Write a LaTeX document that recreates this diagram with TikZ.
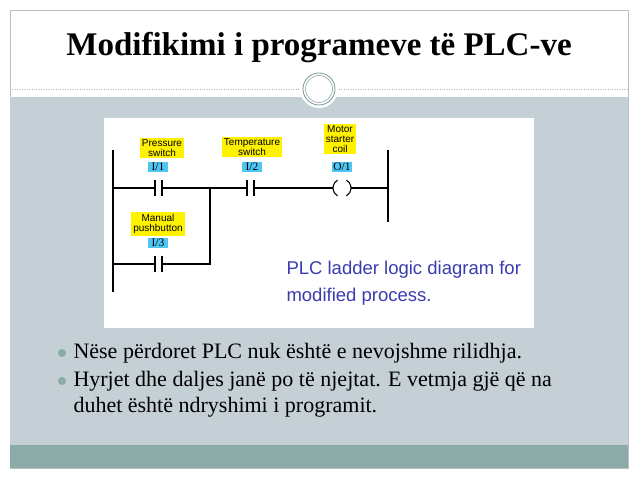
\documentclass[tikz,border=0pt]{standalone}
\usepackage{fontspec}
\setmainfont{Liberation Serif}
\setsansfont{Liberation Sans}
\usetikzlibrary{calc}
\definecolor{bodygray}{RGB}{197,208,214}
\definecolor{teal1}{RGB}{139,171,169}
\definecolor{ringc}{RGB}{120,150,150}
\definecolor{captc}{RGB}{60,60,175}
\begin{document}
\begin{tikzpicture}[x=1pt,y=-1pt,
  lbl/.style={fill=yellow,font=\sffamily\fontsize{10}{10}\selectfont,align=center,inner sep=2pt},
  adr/.style={fill=cyan!70,font=\fontsize{11.5}{11.5}\selectfont,inner sep=1.5pt,minimum width=20pt},
  wire/.style={line width=1.1pt},
  btxt/.style={anchor=west,font=\fontsize{22}{26}\selectfont,align=left}]
\useasboundingbox (0,0) rectangle (638,478);
\fill[white] (0,0) rectangle (638,478);
\draw[gray!50] (10,10) rectangle (628,468);
\fill[bodygray] (10,97) rectangle (628,445);
\fill[teal1] (10,445) rectangle (628,468);
\draw[gray!60,dotted] (10,89) -- (628,89);
\node[font=\bfseries\fontsize{33}{36}\selectfont] (title) at (319,48) {Modifikimi i programeve të PLC-ve};
\fill[white] (319,89) circle (19);
\draw[ringc,line width=0.8pt] (319,89) circle (16);
\draw[ringc,line width=0.5pt] (319,89) circle (13.5);
\fill[white] (104,118) rectangle (534,328);
% ladder
\coordinate (L1) at (113,150); \coordinate (L2) at (113,292);
\coordinate (R1) at (388,150); \coordinate (R2) at (388,222);
\draw[wire] (L1) -- (L2); \draw[wire] (R1) -- (R2);
\coordinate (a1) at (113,188); \coordinate (c1a) at (155,188); \coordinate (c1b) at (162,188);
\coordinate (j1) at (210,188); \coordinate (c2a) at (247,188); \coordinate (c2b) at (254,188);
\coordinate (co) at (342,188); \coordinate (a2) at (388,188);
\coordinate (b1) at (113,264); \coordinate (c3a) at (155,264); \coordinate (c3b) at (162,264); \coordinate (j2) at (210,264);
\draw[wire] (a1) -- (c1a) (c1b) -- (j1) -- (c2a) (c2b) -- ($(co)+(-9,0)$);
\draw[wire] ($(co)+(9,0)$) -- (a2);
\draw[wire] (b1) -- (c3a) (c3b) -- (j2) -- (j1);
\foreach \p in {c1a,c1b,c2a,c2b,c3a,c3b} \draw[wire] ($(\p)+(0,-8)$) -- ($(\p)+(0,8)$);
\draw[wire] (co) ++(240:9) arc (240:120:9);
\draw[wire] (co) ++(-60:9) arc (-60:60:9);
\node[lbl] (ps) at (162,148) {Pressure\\switch};
\node[adr] (i1) at (158,167) {I/1};
\node[lbl] (ts) at (252,147) {Temperature\\switch};
\node[adr] (i2) at (252,167) {I/2};
\node[lbl] (mc) at (340,139) {Motor\\starter\\coil};
\node[adr] (o1) at (342,167) {O/1};
\node[lbl] (mp) at (158,224) {Manual\\pushbutton};
\node[adr] (i3) at (158,243) {I/3};
\node[anchor=west,align=left,text=captc,font=\sffamily\fontsize{18.5}{27}\selectfont] (cap) at (283,283) {PLC ladder logic diagram for\\modified process.};
% bullets
\fill[teal1] (62,353) circle (4);
\fill[teal1] (62,381) circle (4);
\node[btxt] (t1) at (70,353) {Nëse përdoret PLC nuk është e nevojshme rilidhja.};
\node[btxt,anchor=north west] (t2) at (70,368) {Hyrjet dhe daljes janë po të njejtat. E vetmja gjë që na\\duhet është ndryshimi i programit.};
\end{tikzpicture}
\end{document}
